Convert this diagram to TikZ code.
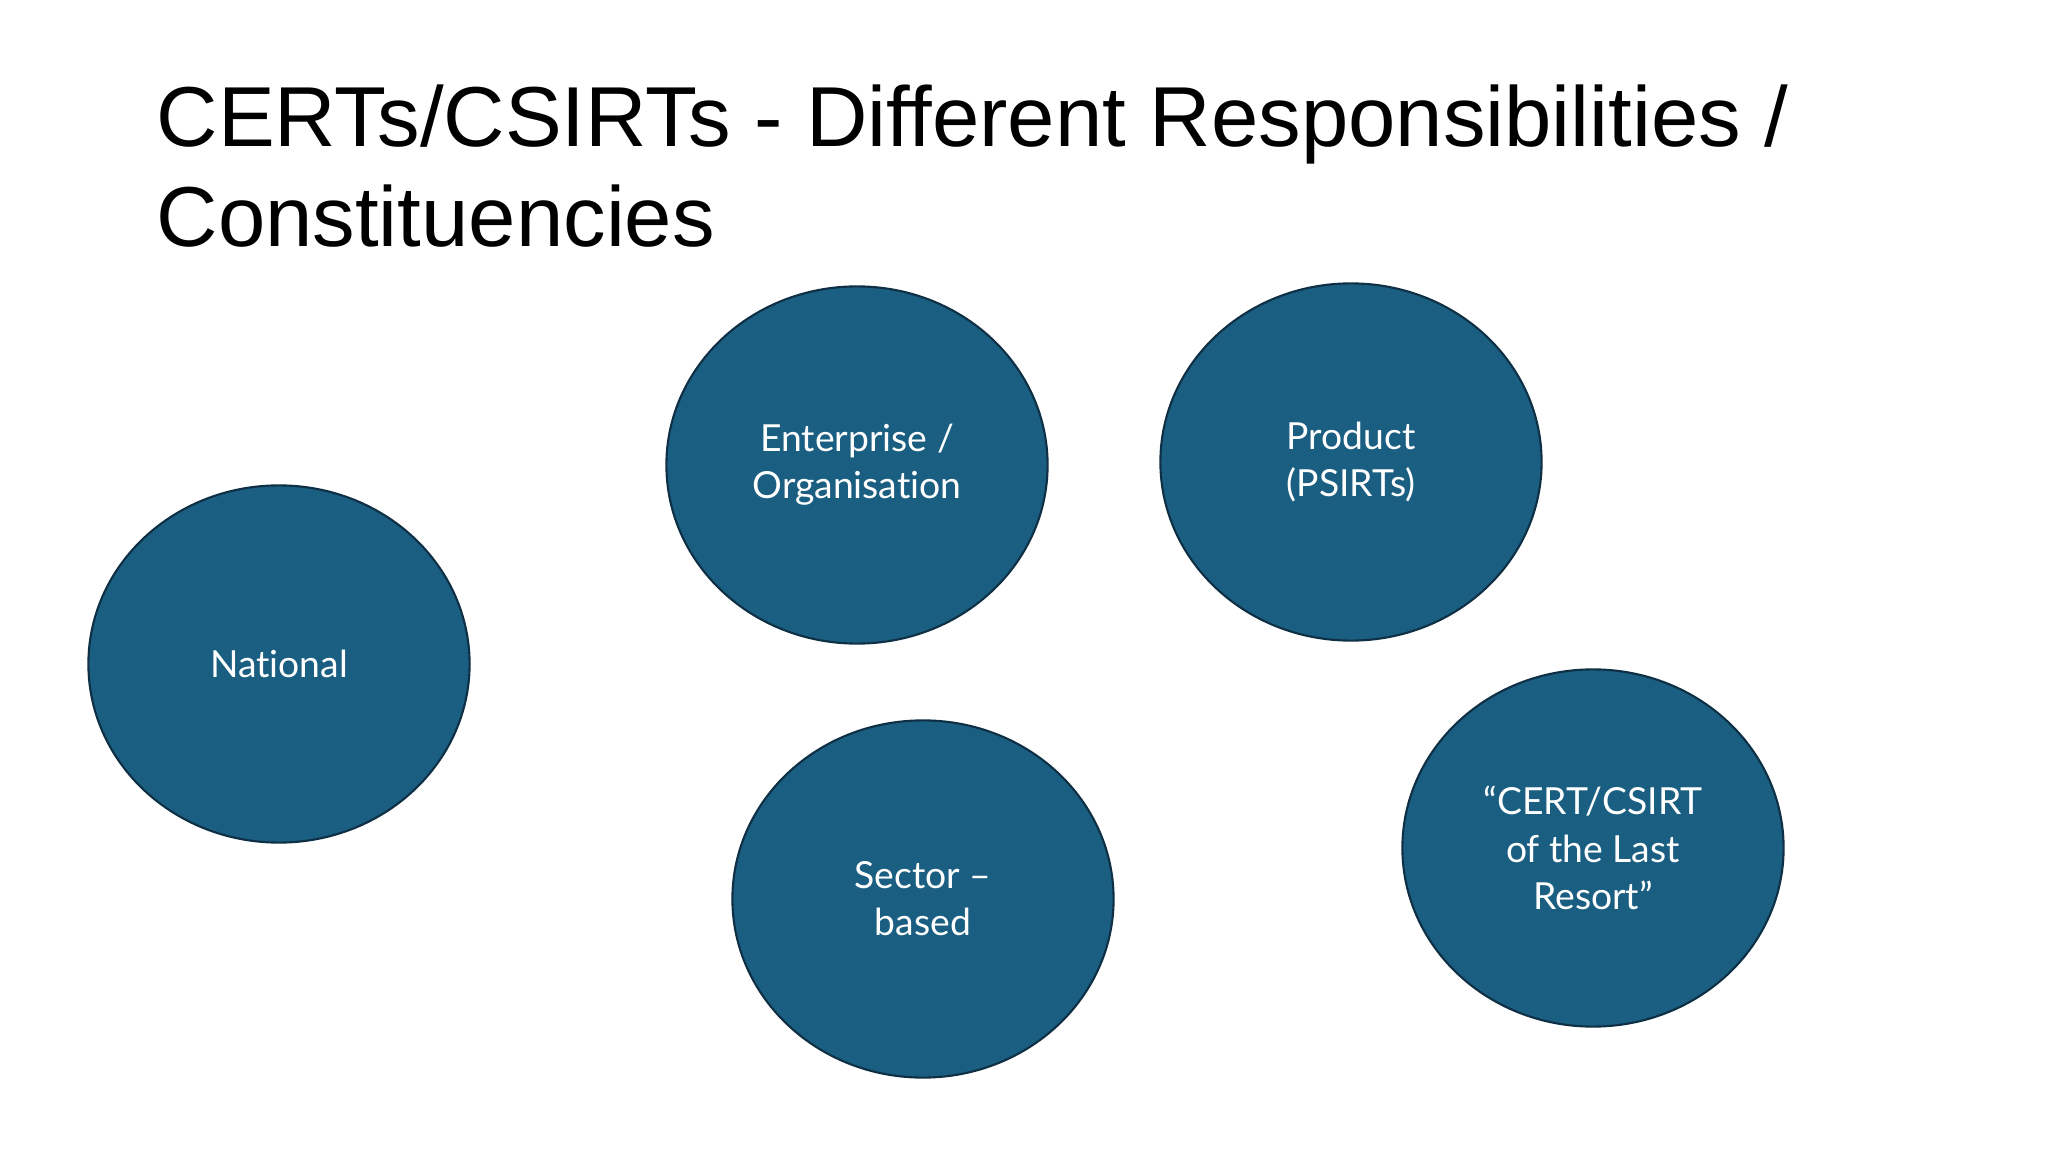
\documentclass[tikz,border=0pt]{standalone}
\usepackage{fontspec}
\setmainfont{Liberation Sans}
\newfontfamily\kreisfont[Ligatures=NoCommon]{Lato}
\usetikzlibrary{shapes.geometric, positioning}

\definecolor{petrol}{HTML}{1A5F81}
\definecolor{petrolrand}{HTML}{0E2F44}

\begin{document}
\begin{tikzpicture}[x=0.01cm, y=-0.01cm,
            kreis/.style={ellipse, draw=petrolrand, line width=0.6pt, fill=petrol, minimum width=3.81cm, minimum height=3.57cm, inner sep=0pt, align=center, text=white, font=\kreisfont\fontsize{10.6}{13.4}\selectfont},
            titel/.style={anchor=base west, inner sep=0pt, font=\fontsize{24.2}{26.4}\selectfont}]

            \useasboundingbox (0,0) rectangle (2048,1152);

            % Titel
            \node[titel] (T1) at (156,147) {CERTs/CSIRTs - Different Responsibilities /};
            \node[titel] (T2) at (156,247) {Constituencies};

            % Kreise
            \node[kreis] (national) at (279,664) {National};
            \node[kreis] (enterprise) at (857,465) {Enterprise /\\Organisation};
            \node[kreis] (product) at (1351,462) {Product\\(PSIRTs)};
            \node[kreis] (sector) at (923,899) {Sector –\\based};
            \node[kreis] (lastresort) at (1593,848) {“CERT/CSIRT\\of the Last\\Resort”};
        \end{tikzpicture}
\end{document}
